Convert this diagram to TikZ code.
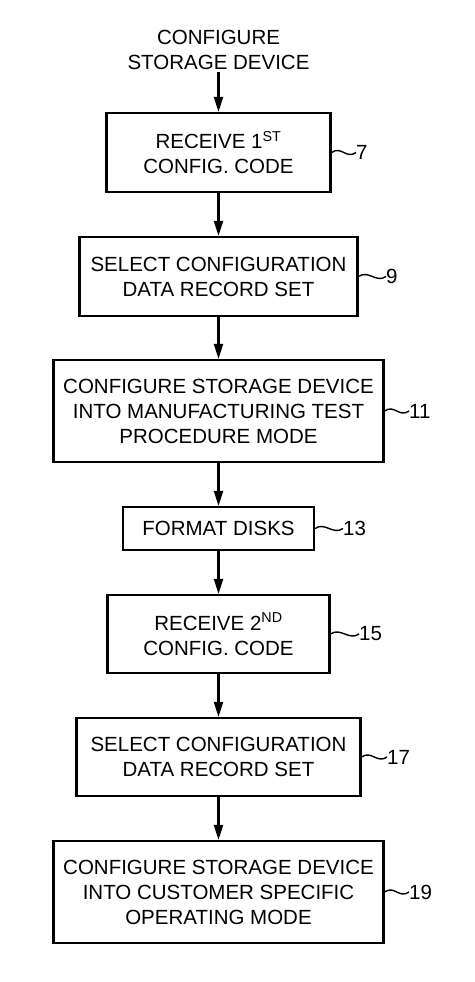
\documentclass[tikz,border=0pt]{standalone}
\usepackage{fontspec}
\setmainfont{Liberation Sans}
\usetikzlibrary{arrows.meta}
\begin{document}
\begin{tikzpicture}[x=1pt,y=-1pt,
  txt/.style={align=center, inner sep=0pt, font=\fontsize{20.5}{25}\selectfont},
  box/.style={txt, draw, line width=2.1pt},
  lbl/.style={inner sep=0pt, anchor=west, font=\fontsize{20.5}{25}\selectfont},
  arr/.style={line width=2.1pt, -{Triangle[length=15pt,width=9pt]}},
  tl/.style={line width=1.4pt}]
\useasboundingbox (0,0) rectangle (474,982);
\node[txt] (t) at (218.5,49.5) {CONFIGURE\\STORAGE DEVICE};
\node[box, minimum width=224pt, minimum height=79pt] (b7) at (218.5,152.5) {RECEIVE 1\textsuperscript{ST}\\CONFIG. CODE};
\node[box, minimum width=278pt, minimum height=79pt] (b9) at (218.5,276.5) {SELECT CONFIGURATION\\DATA RECORD SET};
\node[box, minimum width=330pt, minimum height=102pt] (b11) at (218.5,411) {CONFIGURE STORAGE DEVICE\\INTO MANUFACTURING TEST\\PROCEDURE MODE};
\node[box, minimum width=191pt, minimum height=43pt] (b13) at (218.5,528.5) {FORMAT DISKS};
\node[box, minimum width=222pt, minimum height=78pt] (b15) at (218.5,634) {RECEIVE 2\textsuperscript{ND}\\CONFIG. CODE};
\node[box, minimum width=284pt, minimum height=78pt] (b17) at (218.5,757) {SELECT CONFIGURATION\\DATA RECORD SET};
\node[box, minimum width=330pt, minimum height=102pt] (b19) at (218.5,892) {CONFIGURE STORAGE DEVICE\\INTO CUSTOMER SPECIFIC\\OPERATING MODE};
\draw[arr, shorten <=3pt] (t) -- (b7);
\draw[arr] (b7) -- (b9);
\draw[arr] (b9) -- (b11);
\draw[arr] (b11) -- (b13);
\draw[arr] (b13) -- (b15);
\draw[arr] (b15) -- (b17);
\draw[arr] (b17) -- (b19);
\node[lbl] (l7) at (356,152.5) {7};
\node[lbl] (l9) at (386,276.5) {9};
\node[lbl] (l11) at (409,411) {11};
\node[lbl] (l13) at (343,528.5) {13};
\node[lbl] (l15) at (359,634) {15};
\node[lbl] (l17) at (387,757) {17};
\node[lbl] (l19) at (409,892) {19};
\foreach \b/\l in {b7/l7,b9/l9,b11/l11,b13/l13,b15/l15,b17/l17,b19/l19}
  \draw[tl] (\b.east) .. controls +(10,-7) and +(-10,7) .. (\l.west);
\end{tikzpicture}
\end{document}
